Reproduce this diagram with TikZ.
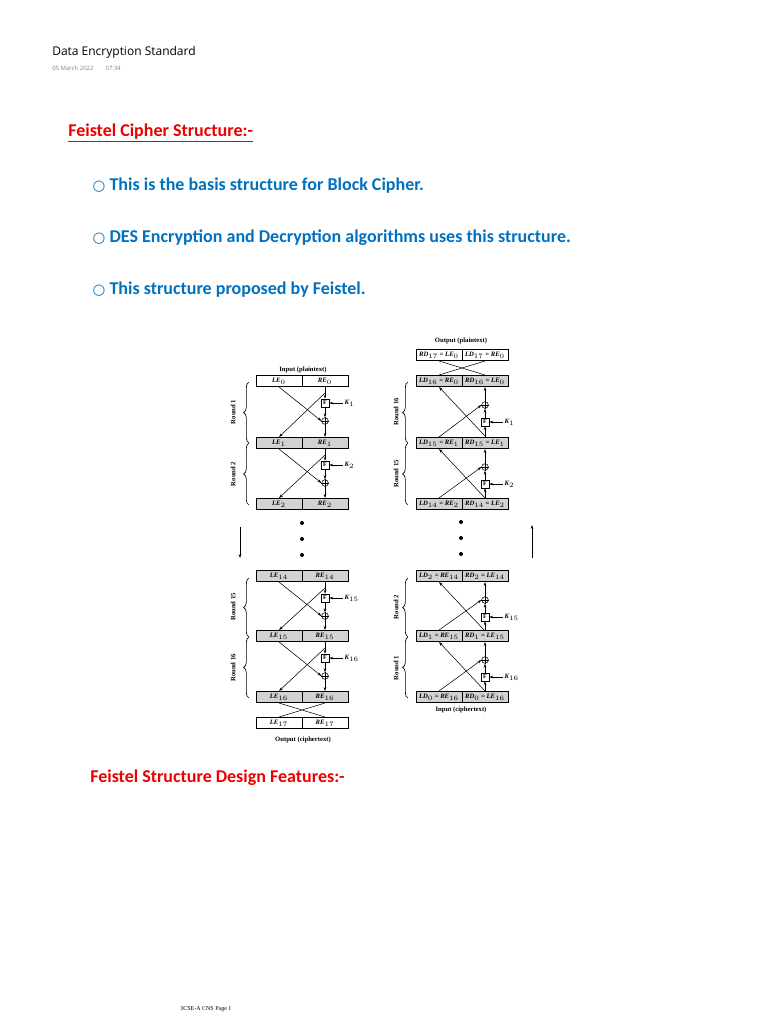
\documentclass[tikz,border=0pt]{standalone}
\usepackage{fontspec}
\setmainfont{Carlito}
\newfontfamily\hdr{Open Sans}
\newfontfamily\dvs{DejaVu Sans}
\newfontfamily\ser{Liberation Serif}
\usetikzlibrary{decorations.pathreplacing,arrows.meta}
\definecolor{hred}{RGB}{238,0,0}
\definecolor{hblue}{RGB}{0,112,192}
\tikzset{
 half/.style={draw,line width=0.5pt,minimum width=34.5pt,minimum height=8.5pt,inner sep=0pt,font=\ser\fontsize{5}{6}\selectfont\bfseries\itshape},
 grey/.style={half,fill=gray!35},
 fbox/.style={draw,fill=white,minimum size=6pt,inner sep=0pt,font=\ser\fontsize{4.5}{5}\selectfont\bfseries},
 xor/.style={draw,circle,fill=white,minimum size=5pt,inner sep=0pt},
 klab/.style={font=\ser\fontsize{5}{6}\selectfont\bfseries\itshape,anchor=west,inner sep=1pt},
 captxt/.style={font=\ser\fontsize{5}{6}\selectfont\bfseries},
 rlab/.style={rotate=90,font=\ser\fontsize{5}{6}\selectfont\bfseries},
 arr/.style={-{Stealth[length=3pt,width=2pt]},line width=0.4pt},
 br/.style={decorate,decoration={brace,amplitude=4pt},line width=0.5pt},
 bul/.style={anchor=west,text=hblue,font=\fontsize{13.5}{16}\selectfont\bfseries},
}
\begin{document}
\begin{tikzpicture}[x=0.75pt,y=-0.75pt]
\useasboundingbox (0,0) rectangle (768,1024);
\node[anchor=west,inner sep=0,font=\hdr\fontsize{9}{10}\selectfont] (title) at (52,52) {Data Encryption Standard};
\node[anchor=west,inner sep=0,text=gray,font=\hdr\fontsize{4.5}{5}\selectfont] (date) at (52,68) {05 March 2022\hspace{9pt}07:34};
\node[anchor=west,inner sep=0,text=hred,font=\fontsize{13.5}{16}\selectfont\bfseries] (h1) at (68,133) {\underline{Feistel Cipher Structure:-}};
\node[bul] (b1) at (88,186) {{\dvs\fontsize{11}{13}\selectfont○} This is the basis structure for Block Cipher.};
\node[bul] (b2) at (88,238) {{\dvs\fontsize{11}{13}\selectfont○} DES Encryption and Decryption algorithms uses this structure.};
\node[bul] (b3) at (88,290) {{\dvs\fontsize{11}{13}\selectfont○} This structure proposed by Feistel.};
\node[anchor=west,inner sep=0,text=hred,font=\fontsize{13.5}{16}\selectfont\bfseries] (h2) at (90,778) {Feistel Structure Design Features:-};
\node[anchor=west,inner sep=0,font=\ser\fontsize{4.5}{5}\selectfont] (foot) at (180,1009) {3CSE-A CNS Page 1};

% ---------- left: encryption ----------
\node[captxt] (inp) at (303,370) {Input (plaintext)};
\foreach \n/\y/\s in {0/381/half,1/443/grey,2/504/grey,14/576/grey,15/636/grey,16/697/grey,17/723/half}{
  \node[\s] (EL\n) at (279,\y) {LE$_{\n}$};
  \node[\s] (ER\n) at (325,\y) {RE$_{\n}$};
}
\node[captxt] (outc) at (303,740) {Output (ciphertext)};
\foreach \a/\b/\y/\k in {0/1/381/1,1/2/443/2,14/15/576/15,15/16/636/16}{
  \node[fbox] (EF\a) at (325,\y+22) {F};
  \node[xor] (EX\a) at (325,\y+40) {};
  \draw (EX\a.north) -- (EX\a.south) (EX\a.west) -- (EX\a.east);
  \node[klab] (EK\a) at (343,\y+22) {K$_{\k}$};
  \draw[arr] (EK\a.west) -- (EF\a.east);
  \draw[arr] (ER\a.south) -- (EF\a.north);
  \draw[arr] (EF\a.south) -- (EX\a.north);
  \draw[arr] (EX\a.south) -- (ER\b.north);
  \draw[arr] (EL\a.south) -- (EX\a.west);
  \coordinate (ES\a) at (325,\y+12);
  \draw[arr] (ES\a) -- (EL\b.north);
}
\draw (EL16.south) -- (ER17.north) (ER16.south) -- (EL17.north);
\coordinate (Eb0) at (249,382); \coordinate (Eb1) at (249,443); \coordinate (Eb2) at (249,505);
\coordinate (Eb3) at (249,578); \coordinate (Eb4) at (249,637); \coordinate (Eb5) at (249,698);
\draw[br] (Eb1) -- (Eb0); \draw[br] (Eb2) -- (Eb1);
\draw[br] (Eb4) -- (Eb3); \draw[br] (Eb5) -- (Eb4);
\node[rlab] (ER1l) at (233,412) {Round 1};
\node[rlab] (ER2l) at (233,474) {Round 2};
\node[rlab] (ER15l) at (233,607) {Round 15};
\node[rlab] (ER16l) at (233,668) {Round 16};
\foreach \y in {523,539,555}{\fill (302,\y) circle (1.5pt);}
\coordinate (EA1) at (240,527); \coordinate (EA2) at (240,558);
\draw[arr] (EA1) -- (EA2);

% ---------- right: decryption ----------
\node[captxt] (outp) at (461,341) {Output (plaintext)};
\node[half] (DL17) at (439,355) {RD$_{17}$ = LE$_{0}$};
\node[half] (DR17) at (485,355) {LD$_{17}$ = RE$_{0}$};
\node[grey] (DL16) at (439,381) {LD$_{16}$ = RE$_{0}$};
\node[grey] (DR16) at (485,381) {RD$_{16}$ = LE$_{0}$};
\node[grey] (DL15) at (439,443) {LD$_{15}$ = RE$_{1}$};
\node[grey] (DR15) at (485,443) {RD$_{15}$ = LE$_{1}$};
\node[grey] (DL14) at (439,504) {LD$_{14}$ = RE$_{2}$};
\node[grey] (DR14) at (485,504) {RD$_{14}$ = LE$_{2}$};
\node[grey] (DL2) at (439,576) {LD$_{2}$ = RE$_{14}$};
\node[grey] (DR2) at (485,576) {RD$_{2}$ = LE$_{14}$};
\node[grey] (DL1) at (439,636) {LD$_{1}$ = RE$_{15}$};
\node[grey] (DR1) at (485,636) {RD$_{1}$ = LE$_{15}$};
\node[grey] (DL0) at (439,697) {LD$_{0}$ = RE$_{16}$};
\node[grey] (DR0) at (485,697) {RD$_{0}$ = LE$_{16}$};
\node[captxt] (inc) at (461,710) {Input (ciphertext)};
\draw (DL16.north) -- (DR17.south) (DR16.north) -- (DL17.south);
\foreach \a/\b/\y/\k in {14/15/443/2,15/16/381/1,0/1/636/16,1/2/576/15}{
  \node[xor] (DX\a) at (485,\y+24) {};
  \draw (DX\a.north) -- (DX\a.south) (DX\a.west) -- (DX\a.east);
  \node[fbox] (DF\a) at (485,\y+41) {F};
  \node[klab] (DK\a) at (503,\y+41) {K$_{\k}$};
  \draw[arr] (DK\a.west) -- (DF\a.east);
  \draw[arr] (DR\a.north) -- (DF\a.south);
  \draw[arr] (DF\a.north) -- (DX\a.south);
  \draw[arr] (DX\a.north) -- (DR\b.south);
  \draw[arr] (DL\a.north) -- (DX\a.west);
  \coordinate (DS\a) at (485,\y+55);
  \draw[arr] (DS\a) -- (DL\b.south);
}
\coordinate (Db0) at (408,382); \coordinate (Db1) at (408,443); \coordinate (Db2) at (408,505);
\coordinate (Db3) at (408,578); \coordinate (Db4) at (408,637); \coordinate (Db5) at (408,698);
\draw[br] (Db1) -- (Db0); \draw[br] (Db2) -- (Db1);
\draw[br] (Db4) -- (Db3); \draw[br] (Db5) -- (Db4);
\node[rlab] (DR16l) at (396,412) {Round 16};
\node[rlab] (DR15l) at (396,474) {Round 15};
\node[rlab] (DR2l) at (396,607) {Round 2};
\node[rlab] (DR1l) at (396,668) {Round 1};
\foreach \y in {522,538,554}{\fill (461,\y) circle (1.5pt);}
\coordinate (DA1) at (532,558); \coordinate (DA2) at (532,525);
\draw[arr] (DA1) -- (DA2);
\end{tikzpicture}
\end{document}
